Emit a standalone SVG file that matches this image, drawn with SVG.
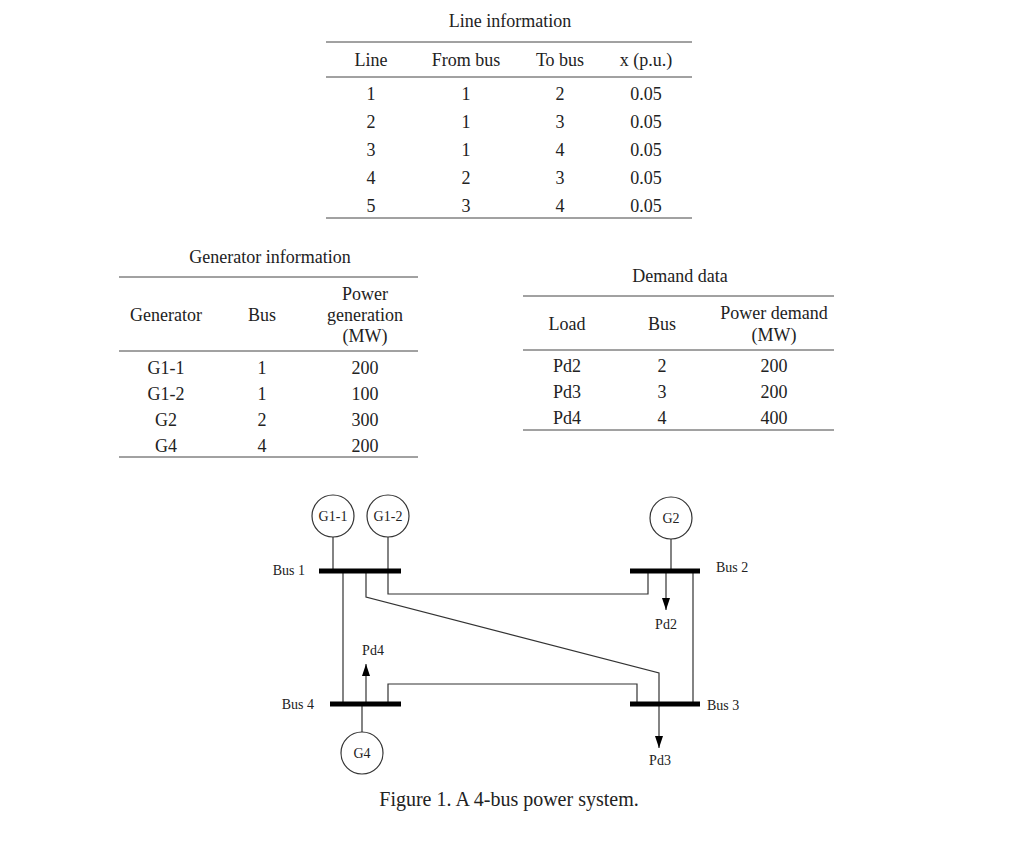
<svg xmlns="http://www.w3.org/2000/svg" width="1024" height="844" viewBox="0 0 1024 844">
<defs><marker id="ar" viewBox="0 0 10 10" refX="10" refY="5" markerWidth="12" markerHeight="8" markerUnits="userSpaceOnUse" orient="auto" preserveAspectRatio="none"><path d="M0,0 L10,5 L0,10 z" fill="#000"/></marker></defs>
<style>
text{font-family:"Liberation Serif",serif;fill:#222}
.t{font-size:18px;text-anchor:middle}
.d{font-size:14px}
.r{stroke:#444;stroke-width:1}
.bus{stroke:#000;stroke-width:5}
.w{stroke:#333;stroke-width:1.2;fill:none}
.g{fill:#fff;stroke:#333;stroke-width:1.2}
</style>
<rect width="1024" height="844" fill="#fff"/>
<g id="line-table">
<text class="t" x="510" y="27">Line information</text>
<line class="r" x1="326" y1="42" x2="692" y2="42"/><line class="r" x1="326" y1="77" x2="692" y2="77"/><line class="r" x1="326" y1="218" x2="692" y2="218"/>
<text class="t" x="371" y="66">Line</text><text class="t" x="466" y="66">From bus</text><text class="t" x="560" y="66">To bus</text><text class="t" x="646" y="66">x (p.u.)</text>
<text class="t" x="371" y="100">1</text><text class="t" x="466" y="100">1</text><text class="t" x="560" y="100">2</text><text class="t" x="646" y="100">0.05</text>
<text class="t" x="371" y="128">2</text><text class="t" x="466" y="128">1</text><text class="t" x="560" y="128">3</text><text class="t" x="646" y="128">0.05</text>
<text class="t" x="371" y="156">3</text><text class="t" x="466" y="156">1</text><text class="t" x="560" y="156">4</text><text class="t" x="646" y="156">0.05</text>
<text class="t" x="371" y="184">4</text><text class="t" x="466" y="184">2</text><text class="t" x="560" y="184">3</text><text class="t" x="646" y="184">0.05</text>
<text class="t" x="371" y="212">5</text><text class="t" x="466" y="212">3</text><text class="t" x="560" y="212">4</text><text class="t" x="646" y="212">0.05</text>
</g>
<g id="gen-table">
<text class="t" x="270" y="263">Generator information</text>
<line class="r" x1="119" y1="277" x2="418" y2="277"/><line class="r" x1="119" y1="351" x2="418" y2="351"/><line class="r" x1="119" y1="457" x2="418" y2="457"/>
<text class="t" x="166" y="321">Generator</text><text class="t" x="262" y="321">Bus</text>
<text class="t" x="365" y="300">Power</text><text class="t" x="365" y="321">generation</text><text class="t" x="365" y="342">(MW)</text>
<text class="t" x="166" y="374">G1-1</text><text class="t" x="262" y="374">1</text><text class="t" x="365" y="374">200</text>
<text class="t" x="166" y="400">G1-2</text><text class="t" x="262" y="400">1</text><text class="t" x="365" y="400">100</text>
<text class="t" x="166" y="426">G2</text><text class="t" x="262" y="426">2</text><text class="t" x="365" y="426">300</text>
<text class="t" x="166" y="452">G4</text><text class="t" x="262" y="452">4</text><text class="t" x="365" y="452">200</text>
</g>
<g id="demand-table">
<text class="t" x="680" y="282">Demand data</text>
<line class="r" x1="523" y1="296" x2="834" y2="296"/><line class="r" x1="523" y1="350" x2="834" y2="350"/><line class="r" x1="523" y1="430" x2="834" y2="430"/>
<text class="t" x="567" y="330">Load</text><text class="t" x="662" y="330">Bus</text>
<text class="t" x="774" y="319">Power demand</text><text class="t" x="774" y="341">(MW)</text>
<text class="t" x="567" y="372">Pd2</text><text class="t" x="662" y="372">2</text><text class="t" x="774" y="372">200</text>
<text class="t" x="567" y="398">Pd3</text><text class="t" x="662" y="398">3</text><text class="t" x="774" y="398">200</text>
<text class="t" x="567" y="424">Pd4</text><text class="t" x="662" y="424">4</text><text class="t" x="774" y="424">400</text>
</g>
<g id="connectors">
<path class="w" d="M333,537 V571 M388,537 V594 H648 V571 M343,571 V704 M366,571 V597 L659,673 V704 M693,571 V704 M388,704 V684 H637 V704 M362,704 V732 M671,539 V571"/>
<path class="w" d="M666,571 V610" marker-end="url(#ar)"/>
<path class="w" d="M659,704 V748" marker-end="url(#ar)"/>
<path class="w" d="M366,704 V664" marker-end="url(#ar)"/>
</g>
<g id="bus1"><line class="bus" x1="319" y1="571" x2="401" y2="571"/><text class="d" x="305" y="575" text-anchor="end">Bus 1</text></g>
<g id="bus2"><line class="bus" x1="630" y1="571" x2="700" y2="571"/><text class="d" x="716" y="572">Bus 2</text></g>
<g id="bus3"><line class="bus" x1="630" y1="704" x2="700" y2="704"/><text class="d" x="707" y="710">Bus 3</text></g>
<g id="bus4"><line class="bus" x1="330" y1="704" x2="401" y2="704"/><text class="d" x="314" y="709" text-anchor="end">Bus 4</text></g>
<g id="g11"><circle class="g" cx="333" cy="516" r="21"/><text class="d" x="333" y="521" text-anchor="middle">G1-1</text></g>
<g id="g12"><circle class="g" cx="388" cy="516" r="21"/><text class="d" x="388" y="521" text-anchor="middle">G1-2</text></g>
<g id="g2"><circle class="g" cx="671" cy="518" r="21"/><text class="d" x="671" y="523" text-anchor="middle">G2</text></g>
<g id="g4"><circle class="g" cx="362" cy="753" r="21"/><text class="d" x="362" y="758" text-anchor="middle">G4</text></g>
<g id="loads">
<text class="d" x="666" y="629" text-anchor="middle">Pd2</text>
<text class="d" x="660" y="765" text-anchor="middle">Pd3</text>
<text class="d" x="373" y="655" text-anchor="middle">Pd4</text>
</g>
<text x="509" y="806" font-size="20" text-anchor="middle">Figure 1. A 4-bus power system.</text>
</svg>
